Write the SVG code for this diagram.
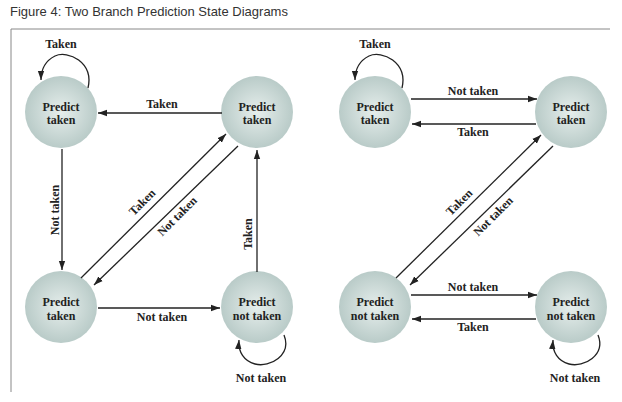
<svg xmlns="http://www.w3.org/2000/svg" width="622" height="402" viewBox="0 0 622 402">
<defs>
<radialGradient id="g" cx="50%" cy="50%" r="50%"><stop offset="0" stop-color="#e6eeec"/><stop offset="1" stop-color="#b9cbc8"/></radialGradient>
<marker id="a" viewBox="0 0 10 10" refX="10" refY="5" markerWidth="7" markerHeight="7" orient="auto"><path d="M0,1.5 L10,5 L0,8.5 Z" fill="#222"/></marker>
<style>
.n{fill:url(#g)}
.t{font-family:"Liberation Serif",serif;font-weight:bold;font-size:12px;fill:#222;text-anchor:middle}
.e{stroke:#222;stroke-width:1.3;fill:none;marker-end:url(#a)}
</style>
</defs>
<rect width="622" height="402" fill="#fff"/>
<text x="10" y="16" font-family="Liberation Sans,sans-serif" font-size="13" fill="#333">Figure 4: Two Branch Prediction State Diagrams</text>
<path d="M11,392 V29 H610" stroke="#888" fill="none"/>
<g id="L_TL"><circle class="n" cx="61" cy="112" r="36"/><text class="t" x="61" y="111">Predict</text><text class="t" x="61" y="124">taken</text></g>
<g id="L_TR"><circle class="n" cx="257" cy="112" r="36"/><text class="t" x="257" y="111">Predict</text><text class="t" x="257" y="124">taken</text></g>
<g id="L_BL"><circle class="n" cx="61" cy="307" r="36"/><text class="t" x="61" y="306">Predict</text><text class="t" x="61" y="320">taken</text></g>
<g id="L_BR"><circle class="n" cx="257" cy="307" r="36"/><text class="t" x="257" y="306">Predict</text><text class="t" x="257" y="320">not taken</text></g>
<g id="R_TL"><circle class="n" cx="375" cy="112" r="36"/><text class="t" x="375" y="111">Predict</text><text class="t" x="375" y="124">taken</text></g>
<g id="R_TR"><circle class="n" cx="571" cy="112" r="36"/><text class="t" x="571" y="111">Predict</text><text class="t" x="571" y="124">taken</text></g>
<g id="R_BL"><circle class="n" cx="375" cy="307" r="36"/><text class="t" x="375" y="306">Predict</text><text class="t" x="375" y="320">not taken</text></g>
<g id="R_BR"><circle class="n" cx="571" cy="307" r="36"/><text class="t" x="571" y="306">Predict</text><text class="t" x="571" y="320">not taken</text></g>
<g id="connectors">
<path class="e" d="M222,113 H98"/><text class="t" x="162" y="108">Taken</text>
<path class="e" d="M62,149 V270"/><text class="t" transform="translate(59,210) rotate(-90)">Not taken</text>
<path class="e" d="M98,308 H220"/><text class="t" x="162" y="321">Not taken</text>
<path class="e" d="M257,272 V150"/><text class="t" transform="translate(252,234) rotate(-90)">Taken</text>
<path class="e" d="M81,278 L226,134"/><text class="t" transform="translate(145,205) rotate(-45)">Taken</text>
<path class="e" d="M238,146 L94,285"/><text class="t" transform="translate(180,219) rotate(-45)">Not taken</text>
<path class="e" d="M88,88 C94,62 68,50 55,56 C45,61 41,70 41,80"/><text class="t" x="61" y="48">Taken</text>
<path class="e" d="M284,335 C292,355 270,368 255,364 C244,361 238,352 239,340"/><text class="t" x="261" y="382">Not taken</text>

<path class="e" d="M411,99 H537"/><text class="t" x="473" y="95">Not taken</text>
<path class="e" d="M536,124 H412"/><text class="t" x="473" y="136">Taken</text>
<path class="e" d="M396,278 L541,135"/><text class="t" transform="translate(462,205) rotate(-45)">Taken</text>
<path class="e" d="M553,146 L410,285"/><text class="t" transform="translate(496,219) rotate(-45)">Not taken</text>
<path class="e" d="M411,295 H537"/><text class="t" x="473" y="291">Not taken</text>
<path class="e" d="M536,319 H412"/><text class="t" x="473" y="331">Taken</text>
<path class="e" d="M402,88 C408,62 382,50 369,56 C359,61 355,70 355,80"/><text class="t" x="375" y="48">Taken</text>
<path class="e" d="M598,335 C606,355 584,368 569,364 C558,361 552,352 553,340"/><text class="t" x="575" y="382">Not taken</text>
</g>
</svg>
